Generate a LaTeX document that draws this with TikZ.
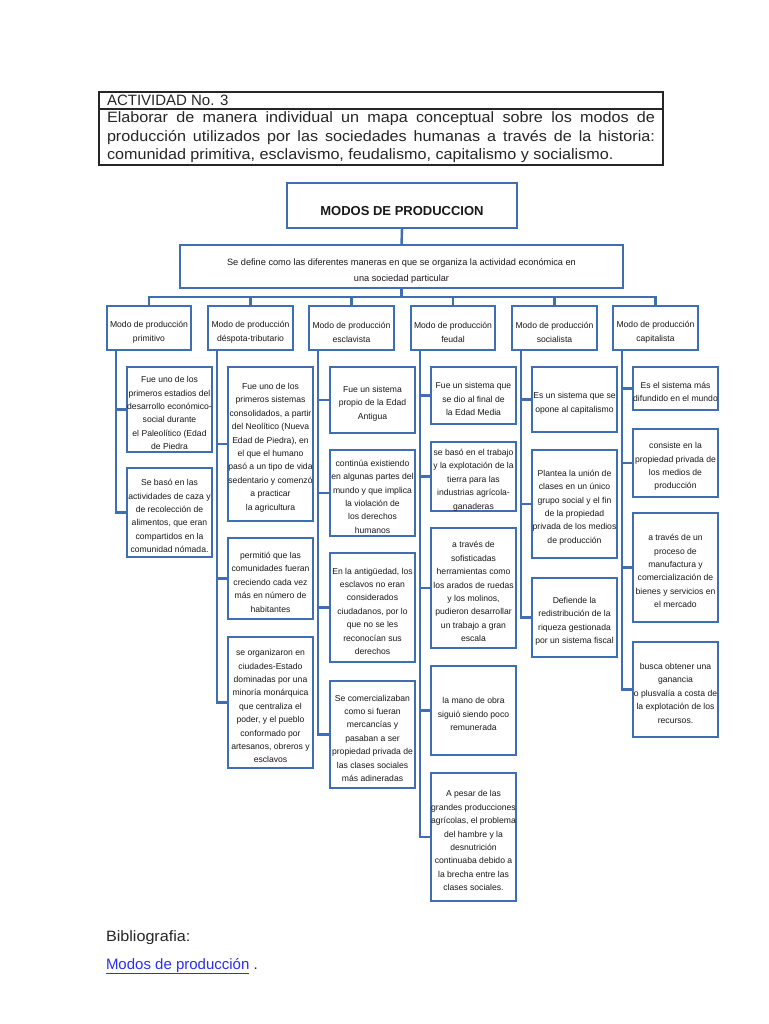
\documentclass[tikz,border=0pt]{standalone}
\usepackage{fontspec}
\setmainfont{Liberation Sans}
\newfontfamily\hdrfam[FakeStretch=1.077]{Liberation Sans}
\definecolor{bblue}{RGB}{63,110,180}
\definecolor{txt}{RGB}{25,25,25}
\definecolor{hdr}{RGB}{38,38,38}
\definecolor{linkblue}{RGB}{45,45,245}
\newcommand\boxfont{\fontsize{8.6pt}{13.4pt}\selectfont}
\newcommand\lvfont{\fontsize{8.6pt}{14pt}\selectfont}
\newcommand\deffont{\fontsize{9.2pt}{16pt}\selectfont}
\newcommand\hdrfont{\hdrfam\fontsize{15pt}{18.5pt}\selectfont}
\newcommand\linkfont{\fontsize{15pt}{18.5pt}\selectfont}
\newcommand\titlefont{\bfseries\fontsize{13pt}{15pt}\selectfont}
\def\strutht{13.5pt}
\newcommand\mybox[7][]{\node[box,#1, minimum width={(#5-#3)*1pt}, minimum height={(#6-#4)*1pt}] (#2) at ({(#3+#5)/2},{(#4+#6)/2}) {\rule{0pt}{\strutht}#7};}
\tikzset{
  box/.style={draw=bblue, line width=2.6pt, fill=white, inner sep=0pt, outer sep=0pt, align=center, text=txt, font=\boxfont},
  conn/.style={draw=bblue, line width=2.4pt},
  hdrline/.style={draw=hdr, line width=1.3pt},
  plain/.style={anchor=base west, inner sep=0pt, outer sep=0pt, text=hdr, font=\hdrfont}
}
\begin{document}
\begin{tikzpicture}[x=1pt,y=-1pt]
\fill[white] (0,0) rectangle (768,1024);
\useasboundingbox (0,0) rectangle (768,1024);

% header table
\draw[hdrline] (99,92) rectangle (663,165);
\draw[hdrline] (99,109) -- (663,109);
\node[plain, font=\linkfont] (act) at (107,106) {ACTIVIDAD No. 3};
\node[plain] (task) at (107,123) {\parbox[t]{548pt}{\hdrfont Elaborar de manera individual un mapa conceptual sobre los modos de\linebreak producción utilizados por las sociedades humanas a través de la historia:\linebreak comunidad primitiva, esclavismo, feudalismo, capitalismo y socialismo.}};

% top boxes
\def\strutht{0pt}
\mybox{title}{287}{183}{517}{228}{\titlefont\raisebox{-10pt}[0pt][0pt]{MODOS DE PRODUCCION}}
\def\strutht{16pt}
\mybox[font=\deffont]{def}{180}{245}{623}{288}{Se define como las diferentes maneras en que se organiza la actividad económica en\\una sociedad particular}

% level 1
\def\strutht{14.5pt}
\mybox[font=\lvfont]{p1}{107}{306}{191}{350}{Modo de producción\\primitivo}
\mybox[font=\lvfont]{p2}{208}{306}{293}{350}{Modo de producción\\déspota-tributario}
\mybox[font=\lvfont]{p3}{309}{306}{394}{350}{Modo de producción\\esclavista}
\mybox[font=\lvfont]{p4}{411}{306}{495}{350}{Modo de producción\\feudal}
\mybox[font=\lvfont]{p5}{512}{306}{597}{350}{Modo de producción\\socialista}
\mybox[font=\lvfont]{p6}{613}{306}{698}{350}{Modo de producción\\capitalista}
\def\strutht{13.5pt}

% column 1
\mybox{c1a}{127}{367}{212}{452}{Fue uno de los\\primeros estadios del\\desarrollo económico-\\social durante\\el Paleolítico (Edad\\de Piedra}
\mybox{c1b}{127}{468}{212}{557}{Se basó en las\\actividades de caza y\\de recolección de\\alimentos, que eran\\compartidos en la\\comunidad nómada.}

% column 2
\mybox{c2a}{228}{367}{313}{521}{Fue uno de los\\primeros sistemas\\consolidados, a partir\\del Neolítico (Nueva\\Edad de Piedra), en\\el que el humano\\pasó a un tipo de vida\\sedentario y comenzó\\a practicar\\la agricultura}
\mybox{c2b}{228}{538}{313}{619}{permitió que las\\comunidades fueran\\creciendo cada vez\\más en número de\\habitantes}
\mybox{c2c}{228}{637}{313}{768}{se organizaron en\\ciudades-Estado\\dominadas por una\\minoría monárquica\\que centraliza el\\poder, y el pueblo\\conformado por\\artesanos, obreros y\\esclavos}

% column 3
\mybox{c3a}{330}{367}{415}{433}{Fue un sistema\\propio de la Edad\\Antigua}
\mybox{c3b}{330}{450}{415}{536}{continúa existiendo\\en algunas partes del\\mundo y que implica\\la violación de\\los derechos\\humanos}
\mybox{c3c}{330}{553}{415}{662}{En la antigüedad, los\\esclavos no eran\\considerados\\ciudadanos, por lo\\que no se les\\reconocían sus\\derechos}
\mybox{c3d}{330}{681}{415}{788}{Se comercializaban\\como si fueran\\mercancías y\\pasaban a ser\\propiedad privada de\\las clases sociales\\más adineradas}

% column 4
\mybox{c4a}{431}{367}{516}{424}{Fue un sistema que\\se dio al final de\\la Edad Media}
\mybox{c4b}{431}{442}{516}{511}{se basó en el trabajo\\y la explotación de la\\tierra para las\\industrias agrícola-\\ganaderas}
\mybox{c4c}{431}{528}{516}{648}{a través de\\sofisticadas\\herramientas como\\los arados de ruedas\\y los molinos,\\pudieron desarrollar\\un trabajo a gran\\escala}
\mybox{c4d}{431}{666}{516}{755}{la mano de obra\\siguió siendo poco\\remunerada}
\mybox{c4e}{431}{773}{516}{901}{A pesar de las\\grandes producciones\\agrícolas, el problema\\del hambre y la\\desnutrición\\continuaba debido a\\la brecha entre las\\clases sociales.}

% column 5
\mybox{c5a}{532}{367}{617}{432}{Es un sistema que se\\opone al capitalismo}
\mybox{c5b}{532}{450}{617}{558}{Plantea la unión de\\clases en un único\\grupo social y el fin\\de la propiedad\\privada de los medios\\de producción}
\mybox{c5c}{532}{578}{617}{657}{Defiende la\\redistribución de la\\riqueza gestionada\\por un sistema fiscal}

% column 6
\mybox{c6a}{633}{367}{718}{410}{Es el sistema más\\difundido en el mundo}
\mybox{c6b}{633}{429}{718}{497}{consiste en la\\propiedad privada de\\los medios de\\producción}
\mybox{c6c}{633}{513}{718}{622}{a través de un\\proceso de\\manufactura y\\comercialización de\\bienes y servicios en\\el mercado}
\mybox{c6d}{633}{642}{718}{737}{busca obtener una\\ganancia\\o plusvalía a costa de\\la explotación de los\\recursos.}

% connectors top
\draw[conn] (title.south) -- (def.north);
\coordinate (bus) at (def.south |- 0,297);
\foreach \p in {p1,p2,p3,p4,p5,p6}{\draw[conn] (def.south) -- (bus) -| (\p.north);}

% trunks
\foreach \col/\kids in {1/{c1a,c1b},2/{c2a,c2b,c2c},3/{c3a,c3b,c3c,c3d},4/{c4a,c4b,c4c,c4d,c4e},5/{c5a,c5b,c5c},6/{c6a,c6b,c6c,c6d}}{
  \coordinate (t\col) at ([xshift=9pt]p\col.south west);
  \foreach \k in \kids {\draw[conn] (t\col) |- (\k.west);}
}

% bibliography
\node[plain] (bib) at (106,941) {Bibliografia:};
\node[plain, text=linkblue, font=\linkfont] (lnk) at (106,969) {\underline{Modos de producción}\textcolor{hdr}{\ .}};
\end{tikzpicture}
\end{document}
